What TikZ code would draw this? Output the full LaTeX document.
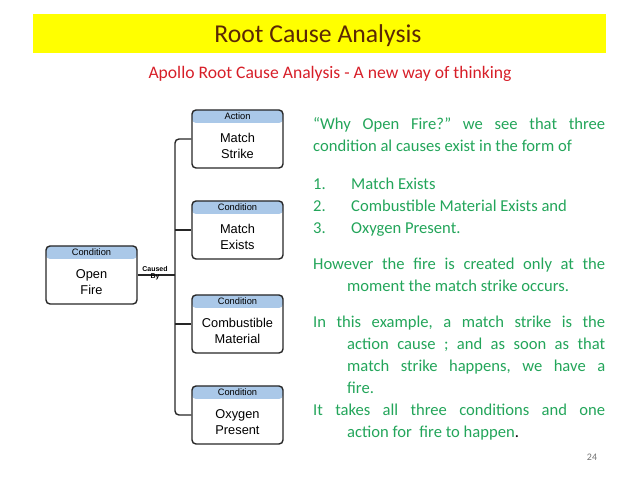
\documentclass[tikz,border=0pt]{standalone}
\usepackage{fontspec}
\setmainfont{Carlito}
\newfontfamily\arialf{Liberation Sans}
\definecolor{ttl}{RGB}{90,40,5}
\definecolor{sub}{RGB}{215,30,40}
\definecolor{bod}{RGB}{35,165,90}
\definecolor{hdr}{RGB}{170,200,232}
\definecolor{ylw}{RGB}{255,255,0}
\newcommand{\jl}[2]{\hbox to #1{#2}}
\begin{document}
\begin{tikzpicture}[x=1pt,y=-1pt,
  box/.style={draw=black!85,line width=1.4pt,rounded corners=4pt,minimum width=91pt,minimum height=58pt,inner sep=0pt,
    path picture={\fill[hdr] (path picture bounding box.north west) rectangle ([yshift=-13pt]path picture bounding box.north east);}},
  hd/.style={font=\arialf\fontsize{9.3}{10}\selectfont,inner sep=0pt},
  bt/.style={font=\arialf\fontsize{12.8}{16}\selectfont,align=center,inner sep=0pt},
  ln/.style={line width=1.4pt,draw=black!85},
  tx/.style={anchor=base west,inner sep=0pt,text=bod,font=\fontsize{16.6}{19}\selectfont}]
\useasboundingbox (0,0) rectangle (638,478);
\fill[ylw] (33,14) rectangle (606,53);
\node[text=ttl,font=\fontsize{25.7}{30}\selectfont] (title) at (318,36) {Root Cause Analysis};
\node[text=sub,font=\fontsize{17.6}{20}\selectfont] (subtitle) at (330,74) {Apollo Root Cause Analysis - A new way of thinking};
% boxes
\node[box] (of) at (91.5,275) {};
\node[hd] at ([yshift=-6.5pt]of.north) {Condition};
\node[bt] at ([yshift=-7pt]of.center) {Open\\Fire};
\node[box] (ms) at (237.5,139) {};
\node[hd] at ([yshift=-6.5pt]ms.north) {Action};
\node[bt] at ([yshift=-7pt]ms.center) {Match\\Strike};
\node[box] (me) at (237.5,230) {};
\node[hd] at ([yshift=-6.5pt]me.north) {Condition};
\node[bt] at ([yshift=-7pt]me.center) {Match\\Exists};
\node[box] (cm) at (237.5,324) {};
\node[hd] at ([yshift=-6.5pt]cm.north) {Condition};
\node[bt] at ([yshift=-7pt]cm.center) {Combustible\\Material};
\node[box] (op) at (237.5,415) {};
\node[hd] at ([yshift=-6.5pt]op.north) {Condition};
\node[bt] at ([yshift=-7pt]op.center) {Oxygen\\Present};
\coordinate (j) at (175,275);
\draw[ln] (of.east) -- (j);
\draw[ln,rounded corners=4pt] (ms.west) -| (j) |- (op.west);
\draw[ln] (175,230) -- (me.west);
\draw[ln] (175,324) -- (cm.west);
\node[font=\arialf\bfseries\fontsize{7}{7.5}\selectfont,align=center,inner sep=0pt] (cb) at (155,273) {Caused\\By};
% text
\node[tx] (l1) at (313,130) {\jl{292pt}{“Why\hfil Open\hfil Fire?”\hfil we\hfil see\hfil that\hfil three}};
\node[tx] (l2) at (313,152) {condition al causes exist in the form of};
\node[tx] (n1) at (313,190) {1.};
\node[tx] (i1) at (351,190) {Match Exists};
\node[tx] (n2) at (313,212) {2.};
\node[tx] (i2) at (351,212) {Combustible Material Exists and};
\node[tx] (n3) at (313,234) {3.};
\node[tx] (i3) at (351,234) {Oxygen Present.};
\node[tx] (l3) at (313,270) {\jl{292pt}{However\hfil the\hfil fire\hfil is\hfil created\hfil only\hfil at\hfil the}};
\node[tx] (l4) at (347,292) {moment the match strike occurs.};
\node[tx] (l5) at (313,328) {\jl{292pt}{In\hfil this\hfil example,\hfil a\hfil match\hfil strike\hfil is\hfil the}};
\node[tx] (l6) at (347,350) {\jl{258pt}{action\hfil cause\hfil ;\hfil and\hfil as\hfil soon\hfil as\hfil that}};
\node[tx] (l7) at (347,372) {\jl{258pt}{match\hfil strike\hfil happens,\hfil we\hfil have\hfil a}};
\node[tx] (l8) at (347,394) {fire.};
\node[tx] (l9) at (313,416) {\jl{292pt}{It\hfil takes\hfil all\hfil three\hfil conditions\hfil and\hfil one}};
\node[tx] (l10) at (347,438) {action for\ \ fire to happen\textcolor{black}{.}};
\node[text=black!55,font=\fontsize{10}{12}\selectfont] (pg) at (592,457) {24};
\end{tikzpicture}
\end{document}
